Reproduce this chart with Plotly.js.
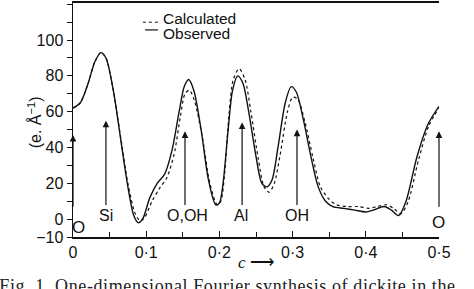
<!DOCTYPE html>
<html>
<head>
<meta charset="utf-8">
<script src="https://cdn.plot.ly/plotly-3.0.1.min.js"></script>
<style>html,body{margin:0;padding:0;background:#fff;}#chart{width:474px;height:289px;}
.caption-text{letter-spacing:0.6px;}</style>
</head>
<body>
<div id="chart"></div>
<script>
// Observed (solid) density along c
const obsC = [0, 0.01, 0.02, 0.03, 0.038, 0.045, 0.055, 0.065, 0.075, 0.083, 0.089, 0.095, 0.105, 0.115, 0.125, 0.135, 0.145, 0.152, 0.158, 0.165, 0.175, 0.185, 0.195, 0.2, 0.205, 0.212, 0.218, 0.225, 0.232, 0.24, 0.25, 0.258, 0.265, 0.272, 0.28, 0.29, 0.298, 0.305, 0.315, 0.325, 0.335, 0.345, 0.355, 0.37, 0.385, 0.4, 0.41, 0.425, 0.435, 0.445, 0.455, 0.47, 0.485, 0.5];
const obsV = [62, 65, 75, 88, 93, 90, 72, 45, 18, 2, -2, 0, 12, 20, 25, 38, 60, 74, 78, 72, 50, 22, 8, 9, 20, 50, 72, 80, 76, 60, 35, 20, 18, 22, 40, 65, 74, 71, 55, 35, 18, 10, 7, 6, 5, 4, 5, 7, 5, 2, 10, 35, 53, 63];
// Calculated (dotted) density along c
const calC = [0, 0.01, 0.02, 0.03, 0.038, 0.045, 0.055, 0.065, 0.075, 0.085, 0.092, 0.098, 0.108, 0.118, 0.128, 0.138, 0.147, 0.153, 0.159, 0.166, 0.177, 0.187, 0.197, 0.202, 0.207, 0.213, 0.219, 0.227, 0.235, 0.243, 0.253, 0.261, 0.268, 0.275, 0.283, 0.293, 0.3, 0.307, 0.317, 0.328, 0.338, 0.35, 0.36, 0.375, 0.39, 0.405, 0.415, 0.428, 0.438, 0.448, 0.458, 0.472, 0.486, 0.5];
const calV = [62, 65, 75, 88, 93, 90, 72, 46, 20, 3, -1, 1, 10, 17, 23, 36, 58, 70, 72, 66, 45, 20, 8, 10, 25, 58, 78, 84, 78, 60, 34, 18, 15, 20, 36, 60, 68, 67, 54, 34, 18, 11, 8, 7, 7, 6, 7, 8, 6, 3, 10, 33, 52, 62];
// Atom position arrows and labels
const atomLabels = ["O", "Si", "O,OH", "Al", "OH", "O"];
const atomC = [0, 0.045, 0.153, 0.231, 0.306, 0.5];
const arrowTop = [47, 55, 49, 54, 50, 49];
const arrowBase = [6, 7, 7, 7, 7, 6];
const labelC = [0.007, 0.045, 0.156, 0.23, 0.306, 0.499];
const labelV = [-4.5, 2, 2, 2, 2, -2];
// Series names and axis ticks
const seriesNames = ["Calculated", "Observed"];
const xTickVals = [0, 0.1, 0.2, 0.3, 0.4, 0.5];
const xTickText = ["0", "0\u00b71", "0\u00b72", "0\u00b73", "0\u00b74", "0\u00b75"];
const yTickVals = [-10, 0, 20, 40, 60, 80, 100];
const yTickText = ["\u221210", "0", "20", "40", "60", "80", "100"];

const sans = "Liberation Sans, Arial, sans-serif";
const traces = [
  {x: calC, y: calV, type: "scatter", mode: "lines", name: seriesNames[0], showlegend: false,
   line: {color: "#111", width: 1.2, dash: "dot", shape: "spline", smoothing: 0.8}},
  {x: obsC, y: obsV, type: "scatter", mode: "lines", name: seriesNames[1], showlegend: false,
   line: {color: "#111", width: 1.4, shape: "spline", smoothing: 0.8}}
];

const annotations = [];
for (let i = 0; i < atomC.length; i++) {
  annotations.push({x: atomC[i], y: arrowTop[i], ax: atomC[i], ay: arrowBase[i],
    xref: "x", yref: "y", axref: "x", ayref: "y", text: "", showarrow: true,
    arrowhead: 2, arrowsize: 1.1, arrowwidth: 1.2, arrowcolor: "#111"});
  annotations.push({x: labelC[i], y: labelV[i], xref: "x", yref: "y", text: atomLabels[i],
    xanchor: "center", yanchor: "middle",
    showarrow: false, font: {family: sans, size: (atomLabels[i] === "O" ? 17 : 16), color: "#111"}});
}
// legend texts
annotations.push({x: 0.24, y: 0.935, xref: "paper", yref: "paper", xanchor: "left", yanchor: "middle",
  text: seriesNames[0], showarrow: false, font: {family: sans, size: 15.5, color: "#111"}});
annotations.push({x: 0.24, y: 0.87, xref: "paper", yref: "paper", xanchor: "left", yanchor: "middle",
  text: seriesNames[1], showarrow: false, font: {family: sans, size: 15.5, color: "#111"}});
// axis titles
annotations.push({x: -0.104, y: 0.49, xref: "paper", yref: "paper", xanchor: "center", yanchor: "middle",
  text: "(e. \u00c5<sup>\u22121</sup>)",
  textangle: -90, showarrow: false, font: {family: sans, size: 16, color: "#111"}});
annotations.push({x: 0.5, y: -0.111, xref: "paper", yref: "paper", xanchor: "center", yanchor: "middle",
  text: "<i>c</i> \u27f6",
  showarrow: false, font: {family: "Liberation Serif, serif", size: 17, color: "#111"}});
annotations.push({x: -0.158, y: -0.209, xref: "paper", yref: "paper", xanchor: "left", yanchor: "middle",
  text: "Fig. 1. One-dimensional Fourier synthesis of dickite in the", captureevents: false,
  showarrow: false, font: {family: "Liberation Serif, serif", size: 18, color: "#222"}});

const layout = {
  width: 474, height: 289,
  margin: {l: 73, r: 35, t: 3, b: 52},
  paper_bgcolor: "#fff", plot_bgcolor: "#fff",
  showlegend: false,
  shapes: [
    {type: "line", xref: "paper", yref: "paper", x0: 0.191, x1: 0.232, y0: 0.918, y1: 0.918,
     line: {color: "#111", width: 1, dash: "dot"}},
    {type: "line", xref: "paper", yref: "paper", x0: 0.197, x1: 0.232, y0: 0.885, y1: 0.885,
     line: {color: "#111", width: 1.2}}
  ],
  xaxis: {range: [0, 0.5], showgrid: false, zeroline: false, showline: true, linecolor: "#111",
    linewidth: 2, mirror: true, ticks: "inside", ticklen: 6, tickcolor: "#111",
    tickvals: xTickVals, ticktext: xTickText,
    minor: {tickvals: [0.05, 0.15, 0.25, 0.35, 0.45], ticks: "inside", ticklen: 5, tickcolor: "#111"},
    tickfont: {family: sans, size: 16, color: "#111"}},
  yaxis: {range: [-10, 120.7], showgrid: false, zeroline: false, showline: true, linecolor: "#111",
    linewidth: 1.5, ticks: "outside", ticklen: 5, tickcolor: "#111",
    tickvals: yTickVals, ticktext: yTickText,
    minor: {dtick: 10, tick0: 0, ticks: "outside", ticklen: 5, tickcolor: "#111"},
    tickfont: {family: sans, size: 16, color: "#111"}},
  yaxis2: {range: [-10, 120.7], overlaying: "y", side: "right", showgrid: false, zeroline: false,
    showline: true, linecolor: "#111", linewidth: 1.5, ticks: "inside", ticklen: 6, tickcolor: "#111",
    dtick: 10, tick0: 0, showticklabels: false},
  annotations: annotations
};
Plotly.newPlot("chart", traces, layout, {staticPlot: true, displayModeBar: false}).then(function () {
  const anns = document.querySelectorAll(".annotation-text");
  anns.forEach(function (t) {
    if (t.textContent.indexOf("Fig. 1.") === 0) { t.classList.add("caption-text"); }
  });
});
</script>
</body>
</html>
